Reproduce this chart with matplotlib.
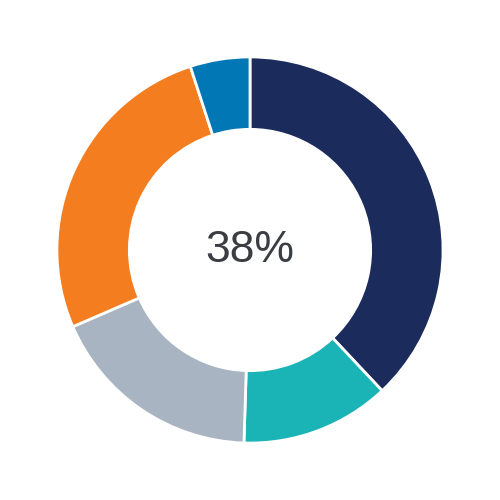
import matplotlib
matplotlib.use('Agg')
import matplotlib.pyplot as plt

# share of each segment, clockwise from 12 o'clock
labels = ['navy', 'teal', 'gray', 'orange', 'blue']
values = [38, 12.5, 18, 26.5, 5]
colors = ['#1b2b5b', '#1ab4b6', '#a9b4c3', '#f47d20', '#0277b5']
center_text = '38%'

fig = plt.figure(figsize=(5, 5), dpi=100)
ax = fig.add_axes([0, 0, 1, 1])
ax.pie(values, colors=colors, startangle=90, counterclock=False,
       radius=1.0,
       wedgeprops=dict(width=0.375, edgecolor='white', linewidth=2))
ax.text(0, 0, center_text, ha='center', va='center', fontsize=32,
        color='#3a3d42', family='Liberation Sans')
ax.set_xlim(-1.295, 1.295)
ax.set_ylim(-1.295, 1.295)
ax.set_aspect('equal')
ax.axis('off')
fig.savefig('out.png', dpi=100, facecolor='white')
